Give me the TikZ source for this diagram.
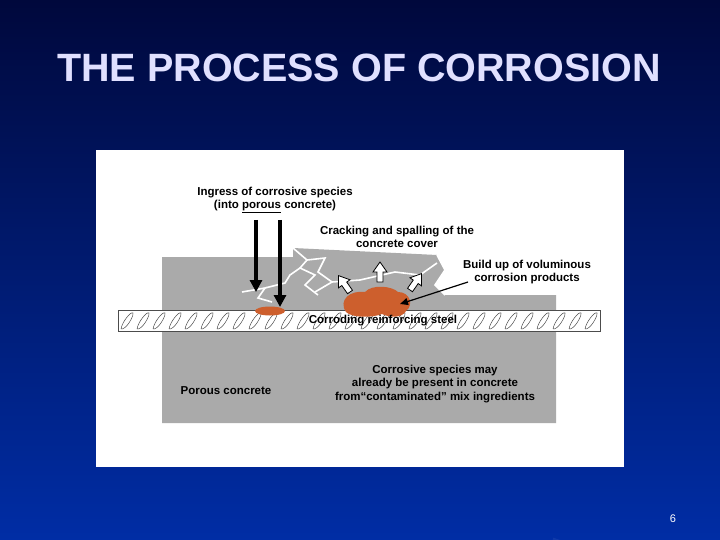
\documentclass[tikz,border=0pt]{standalone}
\usepackage{fontspec}
\setmainfont{Liberation Sans}
\usetikzlibrary{arrows.meta}
\definecolor{rust}{RGB}{205,95,45}
\definecolor{conc}{RGB}{170,170,170}
\begin{document}
\begin{tikzpicture}[x={(1pt,0)},y={(0,-1pt)},
  lbl/.style={font=\bfseries\fontsize{11.5}{13.5}\selectfont,align=center,inner sep=0},
  hollow/.style={draw=black,fill=white,line width=0.8pt},
  crack/.style={white,line width=1.6pt,line join=miter}]
\shade[top color={rgb,255:red,0;green,8;blue,60},bottom color={rgb,255:red,0;green,45;blue,165}] (0,0) rectangle (720,540);
\useasboundingbox (0,0) rectangle (720,540);
\draw[white,opacity=0.06,line width=14pt] (560,540) arc[start angle=200,end angle=120,radius=200];
\node[font=\bfseries\fontsize{39.5}{44}\selectfont,text=white!88!blue] (title) at (359,68) {THE PROCESS OF CORROSION};
\node[font=\fontsize{11}{12}\selectfont,text=white] (pg) at (673,519) {6};
\fill[white] (96,150) rectangle (624,467);
% concrete
\fill[conc] (162,257) -- (293,257) -- (293,248) -- (437,255) -- (445,270) -- (435,285) -- (445,295) -- (556,295) -- (556,423) -- (162,423) -- cycle;
% cracks
\draw[crack] (293,248) -- (307,260) -- (300,268) -- (315,275) -- (305,285) -- (318,295);
\draw[crack] (307,260) -- (325,258) -- (318,272) -- (332,282) -- (315,292);
\draw[crack] (242,292) -- (265,288) -- (258,298) -- (272,302);
\draw[crack] (265,288) -- (285,283) -- (290,275) -- (300,268);
\draw[crack] (332,282) -- (360,280) -- (395,272) -- (420,275) -- (437,263);
\draw[crack] (437,255) -- (445,270) -- (435,285) -- (445,295);
% rebar
\draw[black!70,fill=white] (118,310) rectangle (600,331);
\foreach \i in {0,...,29} {\draw[black!70,line width=0.5pt] (121+16*\i,329) .. controls (122+16*\i,322) and (131+16*\i,311) .. (133+16*\i,313) .. controls (134+16*\i,316) and (126+16*\i,330) .. (121+16*\i,329);}
% rust
\fill[rust] (270,311) ellipse[x radius=15,y radius=4.5];
\fill[rust] (346,312) .. controls (338,300) and (350,290) .. (365,292) .. controls (372,284) and (392,286) .. (398,292) .. controls (410,292) and (414,305) .. (406,311) .. controls (402,318) and (390,318) .. (382,314) .. controls (372,318) and (352,318) .. (346,312) -- cycle;
% arrows
\coordinate (a1s) at (256,220); \coordinate (a1e) at (256,292);
\coordinate (a2s) at (280,220); \coordinate (a2e) at (280,307);
\draw[line width=3.2pt,-{Triangle[length=12pt,width=12pt]}] (a1s) -- (a1e);
\draw[line width=3.2pt,-{Triangle[length=12pt,width=12pt]}] (a2s) -- (a2e);
\coordinate (bs) at (468,282); \coordinate (be) at (400,304);
\draw[line width=1.2pt,-{Triangle[length=8pt,width=7pt]}] (bs) -- (be);
% hollow arrows
\foreach \x/\y/\r in {380/282/0, 350/292/35, 410/290/-35}
  \draw[hollow,rotate around={\r:(\x,\y)}] (\x-3,\y) -- (\x-3,\y-10) -- (\x-7,\y-10) -- (\x,\y-20) -- (\x+7,\y-10) -- (\x+3,\y-10) -- (\x+3,\y) -- cycle;
% labels
\node[lbl] (ing) at (275,200) {Ingress of corrosive species\\(into \underline{porous} concrete)};
\node[lbl] (crk) at (397,237) {Cracking and spalling of the\\concrete cover};
\node[lbl] (bld) at (527,272) {Build up of voluminous\\corrosion products};
\node[lbl] (cst) at (383,321) {Corroding reinforcing steel};
\node[lbl] (cor) at (435,384) {Corrosive species may\\already be present in concrete\\from“contaminated” mix ingredients};
\node[lbl] (por) at (226,391) {Porous concrete};
\end{tikzpicture}
\end{document}
